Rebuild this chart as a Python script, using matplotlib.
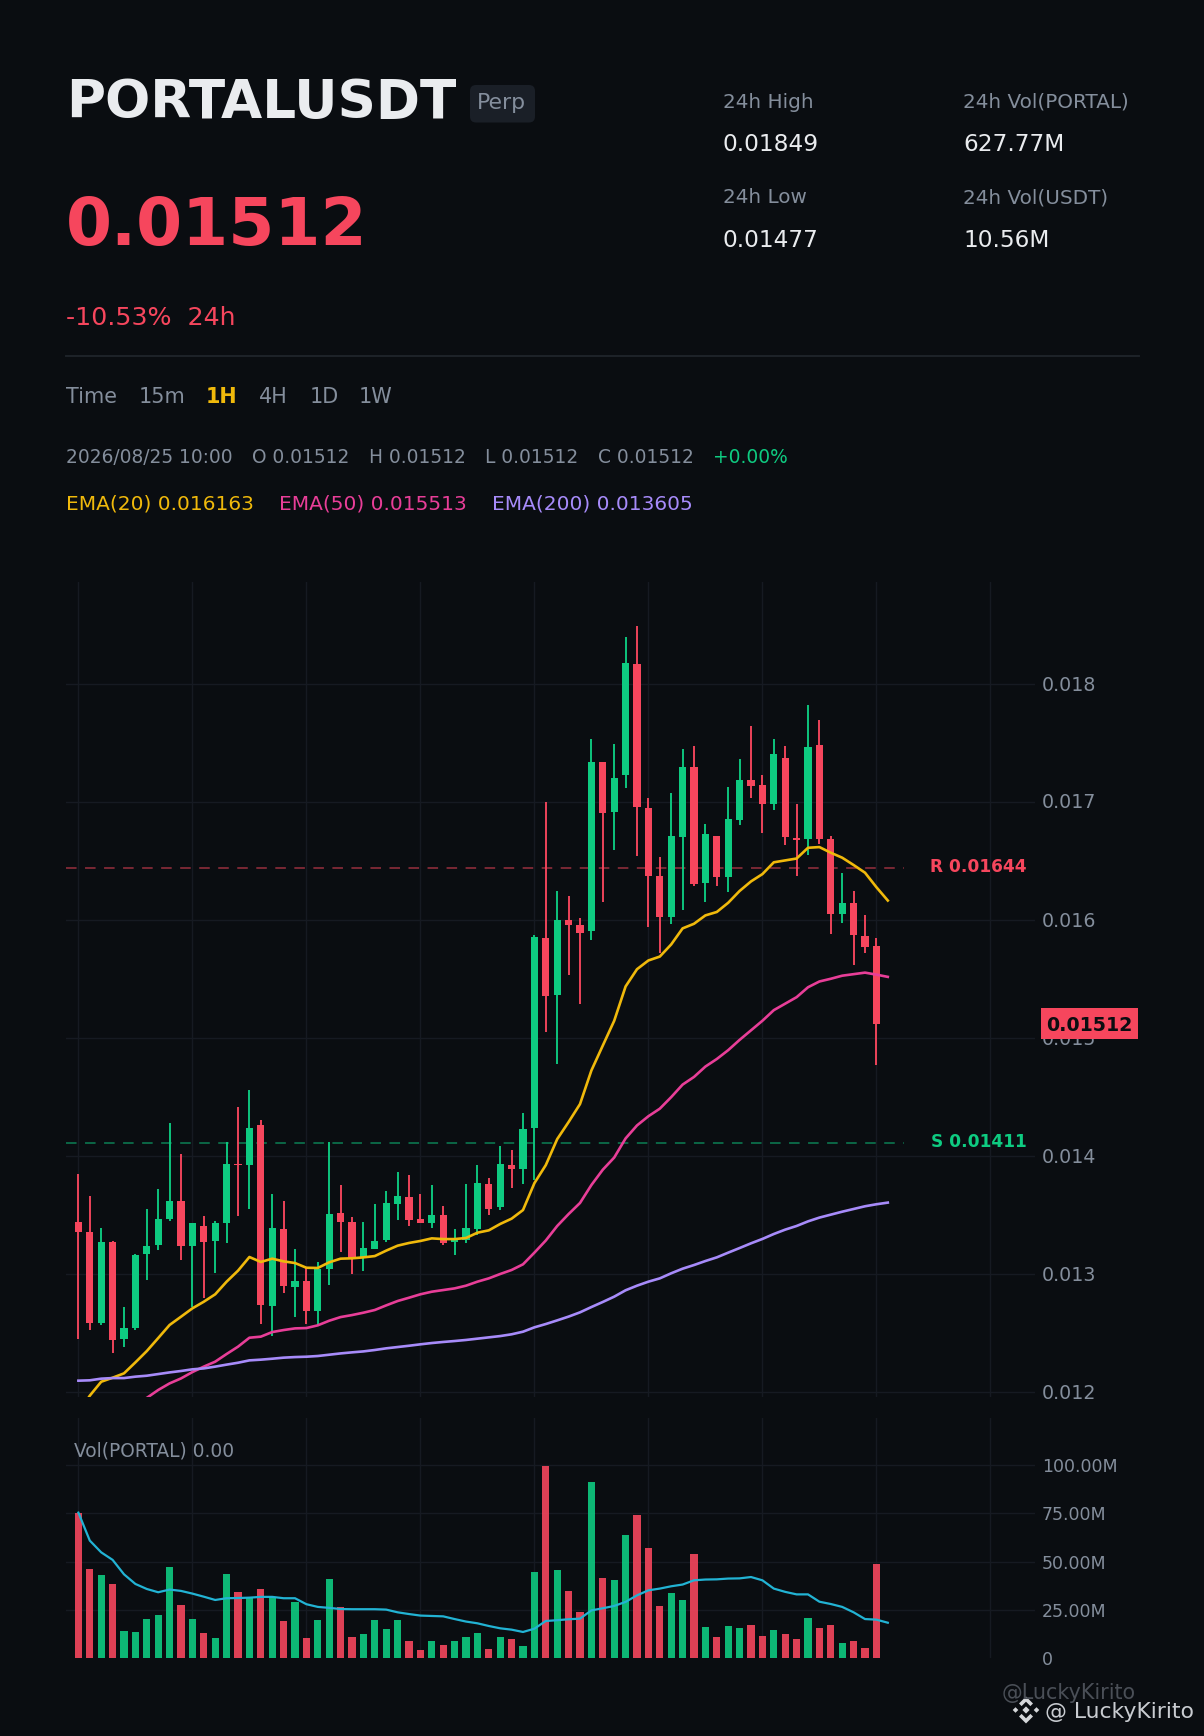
import numpy as np
import matplotlib
matplotlib.use("Agg")
import matplotlib.pyplot as plt
from matplotlib.patches import FancyBboxPatch, Polygon, Rectangle
from matplotlib.transforms import blended_transform_factory, ScaledTranslation

plt.rcParams['font.family'] = ['DejaVu Sans']
plt.rcParams['lines.scale_dashes'] = False

# ---------- data (prices in units of 0.00001, volume in millions) ----------
open_e5 = [1344.1,1335.6,1258.7,1327.1,1244.9,1254.2,1316.9,1324.6,1346.6,1361.8,
           1323.7,1340.7,1328.0,1343.2,1393.2,1392.4,1426.3,1272.9,1338.1,1289.0,
           1294.0,1268.6,1304.2,1351.7,1344.1,1314.4,1321.2,1328.8,1359.3,1365.2,
           1346.6,1343.2,1350.0,1327.1,1328.8,1338.1,1376.3,1356.8,1392.4,1389.0,
           1424.0,1584.8,1536.6,1600.0,1595.8,1590.6,1733.7,1691.3,1722.7,1817.2,
           1694.5,1637.2,1602.6,1670.2,1729.5,1631.4,1670.9,1636.3,1684.5,1718.5,
           1714.2,1698.7,1736.9,1669.3,1668.3,1748.0,1668.3,1604.9,1614.3,1586.4,1578.0]
high_e5 = [1384.7,1366.1,1338.7,1328.0,1272.0,1316.6,1354.8,1371.7,1427.7,1401.7,
           1343.2,1349.1,1344.9,1411.6,1441.5,1455.9,1430.2,1367.8,1361.8,1321.2,
           1304.8,1309.9,1411.6,1375.4,1348.3,1344.1,1359.3,1370.3,1386.4,1383.9,
           1367.8,1375.4,1357.6,1338.1,1376.3,1392.4,1381.3,1408.5,1405.1,1436.4,
           1587.0,1700.3,1625.0,1620.7,1601.3,1753.4,1733.7,1749.2,1839.8,1849.2,
           1703.6,1653.7,1707.8,1745.0,1747.6,1681.6,1670.9,1713.0,1736.6,1764.4,
           1723.0,1753.4,1747.6,1698.7,1782.5,1769.6,1670.9,1640.1,1624.9,1603.9,1585.1]
low_e5 = [1244.9,1252.8,1257.0,1233.3,1238.1,1252.8,1294.9,1320.3,1344.9,1311.9,
          1272.0,1279.6,1300.8,1326.3,1349.1,1355.1,1257.6,1247.7,1283.9,1263.6,
          1257.6,1256.8,1290.7,1318.6,1300.0,1302.5,1321.2,1327.1,1345.8,1340.7,
          1343.2,1339.0,1324.6,1316.1,1326.3,1333.0,1350.0,1354.2,1372.9,1376.3,
          1380.0,1505.5,1478.3,1553.8,1528.5,1583.2,1615.6,1659.6,1712.0,1654.4,
          1593.9,1572.2,1596.8,1608.8,1628.8,1615.6,1629.2,1624.0,1680.6,1703.3,
          1673.8,1693.2,1663.4,1637.6,1655.4,1664.1,1588.1,1597.4,1561.5,1572.2,1477.4]
close_e5 = [1335.9,1258.7,1327.1,1244.0,1254.2,1316.1,1323.7,1346.6,1361.8,1323.7,
            1343.2,1327.1,1343.2,1393.2,1392.4,1423.7,1273.7,1339.0,1289.8,1294.0,
            1268.6,1303.9,1350.8,1344.1,1313.5,1322.0,1328.0,1360.2,1366.1,1345.8,
            1343.2,1350.0,1326.3,1329.6,1339.0,1377.1,1355.1,1393.2,1389.0,1422.9,
            1585.4,1536.0,1600.0,1595.8,1589.0,1734.3,1690.3,1720.1,1818.1,1695.5,
            1637.6,1602.6,1670.9,1729.5,1630.4,1672.5,1636.3,1685.4,1718.5,1713.3,
            1698.1,1740.5,1670.2,1667.6,1747.0,1668.3,1604.9,1614.3,1587.4,1577.0,1512.0]
ema20_e5 = [1182.0,1196.9,1208.7,1212.1,1215.8,1225.1,1234.7,1245.7,1256.8,1263.8,
            1270.9,1276.5,1282.8,1293.5,1302.8,1314.4,1310.2,1313.0,1310.7,1309.3,
            1305.3,1305.1,1309.9,1313.0,1313.3,1314.1,1315.2,1319.8,1324.0,1326.3,
            1328.0,1330.2,1329.6,1329.6,1330.5,1335.0,1337.0,1342.4,1346.9,1354.2,
            1377.0,1392.3,1414.3,1428.8,1444.0,1472.5,1493.6,1514.6,1543.7,1558.3,
            1565.7,1569.0,1579.3,1592.9,1596.8,1603.9,1606.8,1614.6,1624.6,1632.7,
            1638.9,1648.9,1650.5,1652.1,1661.2,1661.8,1657.0,1652.8,1646.6,1640.1,1627.8,1616.5]
ema50_e5 = [np.nan,np.nan,np.nan,np.nan,np.nan,1190.0,1195.0,1201.7,1207.3,1211.5,
            1216.9,1221.5,1225.7,1232.2,1238.4,1246.0,1246.9,1250.8,1252.5,1253.9,
            1254.2,1256.5,1260.4,1263.5,1265.2,1267.2,1269.5,1273.4,1277.1,1279.9,
            1282.8,1285.0,1286.4,1287.8,1290.1,1293.5,1296.3,1300.0,1303.4,1308.2,
            1318.1,1328.4,1340.7,1350.8,1360.2,1375.4,1388.4,1398.7,1414.9,1425.9,
            1433.7,1440.1,1449.9,1460.5,1467.0,1475.8,1482.2,1489.7,1498.4,1506.5,
            1514.6,1523.6,1529.1,1534.6,1543.0,1547.9,1550.2,1552.8,1554.1,1555.4,1553.7,1551.8]
ema200_e5 = [1209.6,1209.9,1211.3,1211.8,1211.8,1213.0,1213.8,1215.2,1216.6,1217.8,
             1219.2,1220.0,1221.5,1223.2,1224.8,1226.8,1227.4,1228.2,1229.1,1229.6,
             1229.9,1230.5,1231.6,1232.7,1233.6,1234.4,1235.6,1237.0,1238.1,1239.2,
             1240.4,1241.5,1242.4,1243.2,1244.1,1245.2,1246.3,1247.4,1248.9,1251.1,
             1254.8,1257.6,1260.7,1263.9,1267.5,1272.0,1276.3,1280.8,1286.2,1290.1,
             1293.5,1296.3,1300.6,1304.5,1307.6,1311.0,1314.1,1318.1,1322.0,1326.0,
             1329.7,1333.9,1337.6,1340.7,1344.6,1347.8,1350.3,1352.8,1355.1,1357.4,1359.1,1360.5]
volume_m = [75.1,46.2,43.1,38.4,14.0,13.5,20.2,22.3,47.2,27.5,
            20.2,13.0,10.4,43.6,34.3,31.1,35.8,31.7,19.2,29.1,
            10.4,19.7,41.0,26.5,10.9,12.5,19.7,15.1,19.7,8.8,
            4.2,8.8,6.7,8.8,10.9,13.0,4.7,10.9,9.9,6.2,
            44.6,99.7,45.7,34.8,23.9,91.3,41.5,40.5,63.8,74.2,
            57.1,27.0,33.7,30.1,54.0,16.1,10.9,16.6,15.6,17.1,
            11.4,14.5,12.5,9.9,20.8,15.6,17.1,7.8,8.8,5.2,48.8]
vol_ema_m = [75.4,60.9,54.8,50.9,43.4,38.4,35.8,34.1,35.5,34.8,
             33.4,31.8,30.1,31.0,31.1,31.3,31.7,31.7,31.0,31.0,
             27.9,26.5,26.0,25.4,25.3,25.3,25.3,25.1,23.7,22.8,
             22.0,21.8,21.6,20.2,18.9,18.0,16.6,15.4,14.7,13.5,
             15.2,19.2,19.6,20.1,20.4,24.7,25.8,27.0,29.1,32.5,
             35.1,36.0,37.2,38.1,40.3,40.7,40.8,41.2,41.3,42.0,
             40.3,36.0,34.3,33.0,33.0,29.2,28.0,26.5,23.7,20.2,19.9,18.3]
price_ticks = [0.012, 0.013, 0.014, 0.015, 0.016, 0.017, 0.018]
vol_ticks = [0, 25, 50, 75, 100]
vol_tick_labels = ['0', '25.00M', '50.00M', '75.00M', '100.00M']
resistance = 0.01644
support = 0.01411
last_price = 0.01512

# ---------- style ----------
W, H = 1204, 1736
BG = '#0A0D11'
GRID = '#161A22'
RED = '#F6465D'
GREEN = '#0ECB81'
GRAY = '#848E9C'
LIGHT = '#EAECEF'
YEL = '#F0B90B'
PINK = '#E83E98'
PURP = '#A78BFA'
CYAN = '#22B3D4'

def px(v):
    return v * 0.72

fig = plt.figure(figsize=(W / 100, H / 100), dpi=100, facecolor=BG)

def panel(x0, x1, ytop, ybot):
    a = fig.add_axes([x0 / W, 1 - ybot / H, (x1 - x0) / W, (ybot - ytop) / H], facecolor=BG)
    for s in a.spines.values():
        s.set_visible(False)
    return a

AX_L, AX_R = 66, 1035
IDX0, STEP = 78.4, 11.4
xlim = ((AX_L - IDX0) / STEP, (AX_R - IDX0) / STEP)
xgrid = np.arange(0, 90, 10)

def dress(a, size):
    a.set_xlim(*xlim)
    a.set_xticks(xgrid)
    a.tick_params(axis='x', length=0, labelbottom=False)
    a.yaxis.tick_right()
    a.tick_params(axis='y', length=0, pad=5.0, labelsize=px(size), labelcolor=GRAY)
    a.grid(True, color=GRID, lw=1.0, zorder=0)
    a.set_axisbelow(True)

# ---------- price panel ----------
ax = panel(AX_L, AX_R, 582, 1397)
dress(ax, 19)
ax.set_ylim(0.012 - 5 / 118000, 0.012 + 810 / 118000)
ax.set_yticks(price_ticks)
ax.set_yticklabels([f'{t:.3f}' for t in price_ticks])
lift = ScaledTranslation(0, 1 / 100, fig.dpi_scale_trans)
for lab in ax.get_yticklabels():
    lab.set_transform(lab.get_transform() + lift)

o, h, l, c = [np.array(v) * 1e-5 for v in (open_e5, high_e5, low_e5, close_e5)]
x = np.arange(len(o))
colors = [GREEN if ci >= oi else RED for oi, ci in zip(o, c)]
tr = blended_transform_factory(ax.transAxes, ax.transData)
line_end = (904 - AX_L) / (AX_R - AX_L)
ax.plot([0, line_end], [resistance] * 2, transform=tr, color=RED, alpha=0.55, lw=1.2,
        ls=(0, (7.6, 6.1)), zorder=1.5)
ax.plot([0, line_end], [support] * 2, transform=tr, color=GREEN, alpha=0.55, lw=1.2,
        ls=(0, (7.6, 6.1)), zorder=1.5)
ax.vlines(x, l, h, colors=colors, lw=1.35, zorder=2)
bot = np.minimum(o, c)
hgt = np.maximum(np.abs(c - o), 1.2e-5)
ax.bar(x, hgt, bottom=bot, width=0.64, color=colors, zorder=3, linewidth=0)
xe = np.arange(len(ema20_e5))
ax.plot(xe, np.array(ema20_e5) * 1e-5, color=YEL, lw=1.9, zorder=4)
ax.plot(xe, np.array(ema50_e5) * 1e-5, color=PINK, lw=1.9, zorder=4)
ax.plot(xe, np.array(ema200_e5) * 1e-5, color=PURP, lw=1.9, zorder=4)

# ---------- volume panel ----------
av = panel(AX_L, AX_R, 1418, 1658)
dress(av, 17.4)
av.set_ylim(0, 240 / 48.2 * 25)
av.set_yticks(vol_ticks)
av.set_yticklabels(vol_tick_labels)
av.yaxis.get_gridlines()[0].set_visible(False)
av.bar(x, volume_m, width=0.64, color=colors, alpha=0.9, linewidth=0, zorder=2)
av.plot(xe, vol_ema_m, color=CYAN, lw=1.6, zorder=3)

# ---------- overlay in pixel coordinates for the page text ----------
ov = fig.add_axes([0, 0, 1, 1], zorder=10)
ov.set_xlim(0, W)
ov.set_ylim(H, 0)
ov.axis('off')
ov.patch.set_alpha(0)

def T(xp, yp, s, size, color, weight='normal', ha='left', va='baseline', alpha=None):
    return ov.text(xp, yp, s, fontsize=px(size), color=color, fontweight=weight,
                   ha=ha, va=va, alpha=alpha)

T(66, 118, 'PORTALUSDT', 53.2, LIGHT, 'bold')
ov.add_patch(FancyBboxPatch((470, 85), 65, 37.5, boxstyle='round,pad=0,rounding_size=6',
                            fc='#1A1F27', ec='none', lw=0))
T(477, 109, 'Perp', 22, GRAY)
T(66, 244.5, '0.01512', 66.2, RED, 'bold')
T(66, 325, '-10.53%  24h', 25.2, RED)

T(723, 107.7, '24h High', 20, GRAY)
T(723, 151, '0.01849', 23.2, LIGHT)
T(723, 203, '24h Low', 20, GRAY)
T(723, 246.7, '0.01477', 23.2, LIGHT)
T(963, 107.7, '24h Vol(PORTAL)', 20, GRAY)
T(963, 151, '627.77M', 23.2, LIGHT)
T(963, 203, '24h Vol(USDT)', 20, GRAY)
T(963, 246.7, '10.56M', 23.2, LIGHT)

ov.plot([66, 1139], [355.7, 355.7], color='#1E2329', lw=1.4)

T(66, 403, 'Time', 20.8, GRAY)
T(139, 403, '15m', 20.8, GRAY)
T(206, 403, '1H', 20.8, YEL, 'bold')
T(259, 403, '4H', 20.8, GRAY)
T(310, 403, '1D', 20.8, GRAY)
T(359, 403, '1W', 20.8, GRAY)

T(66, 462.7, '2026/08/25 10:00', 18.7, GRAY)
T(252, 462.7, 'O 0.01512', 18.7, GRAY)
T(369, 462.7, 'H 0.01512', 18.7, GRAY)
T(485, 462.7, 'L 0.01512', 18.7, GRAY)
T(598, 462.7, 'C 0.01512', 18.7, GRAY)
T(713, 462.7, '+0.00%', 18.7, GREEN)

T(66, 510, 'EMA(20) 0.016163', 20.1, YEL)
T(279, 510, 'EMA(50) 0.015513', 20.1, PINK)
T(492, 510, 'EMA(200) 0.013605', 20.1, PURP)

T(1027, 872, 'R 0.01644', 17, RED, 'bold', ha='right')
T(1027, 1147, 'S 0.01411', 17, GREEN, 'bold', ha='right')

ov.add_patch(Rectangle((1041, 1008), 97, 31, fc=RED, ec='none'))
T(1089, 1023.5, f'{last_price:.5f}', 19, '#0B0E11', 'bold', ha='center', va='center_baseline')

T(74, 1456.7, 'Vol(PORTAL) 0.00', 18.7, GRAY)

T(1002, 1699, '@LuckyKirito', 20.7, '#4A4F57')
T(1045, 1717.5, '@ LuckyKirito', 21.9, '#C9CCD1')

# exchange mark of the watermark
LOGO_X, LOGO_Y = 1026, 1710
LOGO_COLOR = '#D5D7DA'
chevron = [(0, -13.5), (7, -6.5), (4.4, -3.9), (0, -8.3), (-4.4, -3.9), (-7, -6.5)]
ov.add_patch(Polygon([(LOGO_X + a, LOGO_Y + b) for a, b in chevron], fc=LOGO_COLOR, ec='none'))
ov.add_patch(Polygon([(LOGO_X + a, LOGO_Y - b) for a, b in chevron], fc=LOGO_COLOR, ec='none'))
for dx, r in [(-10.5, 2.8), (10.5, 2.8), (0, 3.6)]:
    cx = LOGO_X + dx
    ov.add_patch(Polygon([(cx, LOGO_Y - r), (cx + r, LOGO_Y), (cx, LOGO_Y + r), (cx - r, LOGO_Y)],
                         fc=LOGO_COLOR, ec='none'))

fig.savefig('out.png', dpi=100, facecolor=BG)
